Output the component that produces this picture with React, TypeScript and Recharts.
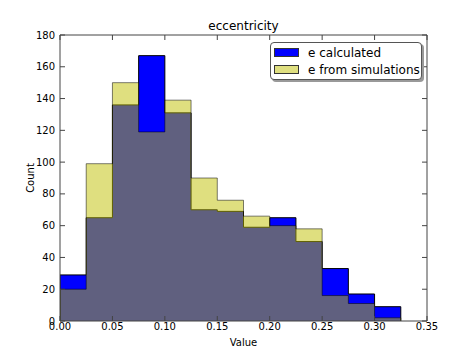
import React from 'react';
import { ComposedChart, Area, XAxis, YAxis, Legend, Label } from 'recharts';

const binStarts = [0, 0.025, 0.05, 0.075, 0.1, 0.125, 0.15, 0.175, 0.2, 0.225, 0.25, 0.275, 0.3];
const binEnd = 0.325;
const eCalculated = [29, 65, 136, 167, 131, 70, 69, 59, 65, 50, 33, 17, 9];
const eSimulations = [20, 99, 150, 119, 139, 90, 76, 66, 60, 58, 16, 11, 2];
const xTicks = [0, 0.05, 0.1, 0.15, 0.2, 0.25, 0.3, 0.35];
const yTicks = [0, 20, 40, 60, 80, 100, 120, 140, 160, 180];

const data = [
  { x: binStarts[0], calc: 0, sim: 0 },
  ...binStarts.map((x, i) => ({ x, calc: eCalculated[i], sim: eSimulations[i] })),
  { x: binEnd, calc: 0, sim: 0 },
];

const FONT = '"DejaVu Sans", sans-serif';
const AXIS = '#444';
const swatch: Record<string, string> = { calc: '#0000ff', sim: '#dfdf80' };

const renderLegend = (props: any) => {
  const { payload = [] } = props;
  return (
    <div
      style={{
        border: '1px solid #555',
        borderRadius: 4,
        background: '#fff',
        boxShadow: '2px 2px 0 #999',
        padding: '1px 3px',
        width: 152,
        boxSizing: 'border-box',
        fontFamily: FONT,
        fontSize: 12,
        color: '#000',
        whiteSpace: 'nowrap',
      }}
    >
      {payload.map((entry: any) => (
        <div key={entry.dataKey} style={{ display: 'flex', alignItems: 'center', height: 17 }}>
          <span
            style={{
              display: 'inline-block',
              flex: '0 0 auto',
              width: 25,
              height: 9,
              background: swatch[entry.dataKey],
              border: '1px solid #333',
              boxSizing: 'border-box',
              marginRight: 9,
            }}
          />
          <span>{entry.value}</span>
        </div>
      ))}
    </div>
  );
};

export default function App() {
  return (
    <div style={{ position: 'relative', width: 474, height: 357 }}>
      <style>{`body{margin:0;background:#fff}`}</style>
      <ComposedChart width={474} height={357} data={data} margin={{ top: 34, right: 46, left: 0, bottom: 0 }}>
        <XAxis
          dataKey="x"
          type="number"
          domain={[0, 0.35]}
          allowDataOverflow
          ticks={xTicks}
          interval={0}
          tickFormatter={(v: number) => v.toFixed(2)}
          height={36}
          tickSize={-5}
          tickMargin={7}
          stroke={AXIS}
          tick={{ fill: '#000', fontSize: 10, fontFamily: FONT }}
        >
          <Label value="Value" position="center" dy={3} fontSize={10} fill="#000" fontFamily={FONT} />
        </XAxis>
        <XAxis
          xAxisId="top"
          dataKey="x"
          orientation="top"
          type="number"
          domain={[0, 0.35]}
          allowDataOverflow
          ticks={xTicks}
          interval={0}
          tickFormatter={() => ''}
          height={1}
          tickSize={-5}
          stroke={AXIS}
        >
          <Label value="eccentricity" position="top" offset={4} fontSize={12} fill="#000" fontFamily={FONT} />
        </XAxis>
        <YAxis
          type="number"
          domain={[0, 180]}
          allowDataOverflow
          ticks={yTicks}
          interval={0}
          width={60}
          tickSize={-5}
          tickMargin={10}
          stroke={AXIS}
          tick={{ fill: '#000', fontSize: 10, fontFamily: FONT }}
        >
          <Label value="Count" position="center" angle={-90} fontSize={10} fill="#000" fontFamily={FONT} />
        </YAxis>
        <YAxis
          yAxisId="r"
          orientation="right"
          type="number"
          domain={[0, 180]}
          allowDataOverflow
          ticks={yTicks}
          interval={0}
          width={1}
          tickSize={-5}
          tickFormatter={() => ''}
          stroke={AXIS}
        />
        <Area
          type="stepAfter"
          dataKey="calc"
          name="e calculated"
          fill="#0000ff"
          fillOpacity={1}
          stroke="#000"
          strokeWidth={1}
          dot={false}
          activeDot={false}
          isAnimationActive={false}
        />
        <Area
          type="stepAfter"
          dataKey="sim"
          name="e from simulations"
          fill="#bfbf00"
          fillOpacity={0.5}
          stroke="#000"
          strokeOpacity={0.5}
          strokeWidth={1}
          dot={false}
          activeDot={false}
          isAnimationActive={false}
        />
        <Legend
          layout="vertical"
          align="center"
          verticalAlign="middle"
          content={renderLegend}
          wrapperStyle={{ position: 'absolute', left: 270, top: 42, width: 152, height: 'auto' }}
        />
      </ComposedChart>
    </div>
  );
}
